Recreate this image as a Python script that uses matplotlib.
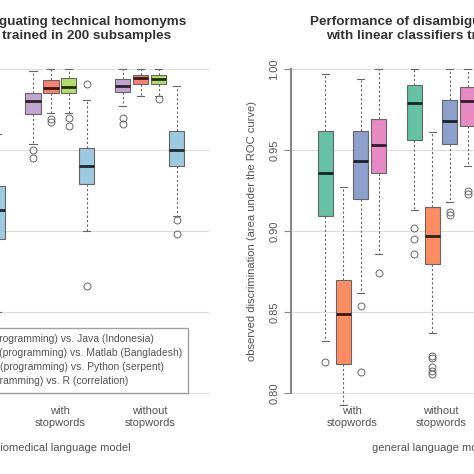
import matplotlib
matplotlib.use("Agg")
import matplotlib.pyplot as plt
from matplotlib.patches import Patch
import matplotlib.colors as mcolors

plt.rcParams['font.family'] = ['Liberation Sans', 'DejaVu Sans']

title = "Performance of disambiguating technical homonyms\nwith linear classifiers trained in 200 subsamples"

# left panel: biomedical language model
bio_groups = ["raw\ntext", "with\nstopwords", "without\nstopwords"]
bio_names = ["Java (programming) vs. Java (Indonesia)",
             "Matlab (programming) vs. Matlab (Bangladesh)",
             "Python (programming) vs. Python (serpent)",
             "R (programming) vs. R (correlation)"]
bio_colors = ["#c2a5cf", "#fb8072", "#b3de69", "#9ecae1"]
# (whislo, q1, median, q3, whishi, outliers) per group, per series
bio_stats = [
    [(0.93, 0.96, 0.97, 0.98, 0.995, []),
     (0.95, 0.975, 0.982, 0.99, 1.0, []),
     (0.95, 0.975, 0.982, 0.99, 1.0, []),
     (0.85, 0.895, 0.913, 0.928, 0.96, [])],
    [(0.954, 0.972, 0.980, 0.985, 0.999, [0.950, 0.945]),
     (0.973, 0.985, 0.988, 0.993, 1.0, [0.969, 0.967]),
     (0.973, 0.985, 0.989, 0.9945, 1.0, [0.970, 0.965]),
     (0.900, 0.929, 0.940, 0.951, 0.981, [0.991, 0.866])],
    [(0.977, 0.986, 0.9895, 0.994, 1.0, [0.970, 0.966]),
     (0.983, 0.991, 0.9945, 0.996, 1.0, []),
     (0.983, 0.991, 0.994, 0.996, 1.0, [0.9815]),
     (0.909, 0.940, 0.950, 0.962, 0.9895, [0.907, 0.898])],
]

# right panel: general language model
gen_groups = ["with\nstopwords", "without\nstopwords"]
gen_colors = ["#66c2a5", "#fc8d62", "#8da0cb", "#e78ac3"]
gen_stats = [
    [(0.832, 0.909, 0.936, 0.962, 0.997, [0.819]),
     (0.793, 0.818, 0.849, 0.870, 0.927, []),
     (0.862, 0.920, 0.943, 0.962, 0.994, [0.854, 0.813]),
     (0.886, 0.936, 0.953, 0.969, 1.0, [0.874])],
    [(0.913, 0.956, 0.979, 0.990, 1.0, [0.902, 0.895, 0.886]),
     (0.837, 0.880, 0.897, 0.915, 0.961, [0.823, 0.822, 0.816, 0.814, 0.812]),
     (0.918, 0.954, 0.968, 0.981, 1.0, [0.912, 0.910]),
     (0.940, 0.965, 0.980, 0.989, 1.0, [0.925, 0.923])],
]

offsets = [-0.3, -0.1, 0.1, 0.3]


def draw_boxes(ax, stats, colors):
    for g, group in enumerate(stats):
        for k, s in enumerate(group):
            d = dict(whislo=s[0], q1=s[1], med=s[2], q3=s[3], whishi=s[4], fliers=s[5])
            c = colors[k]
            dark = tuple(v * 0.2 for v in mcolors.to_rgb(c))
            ax.bxp([d], positions=[g + 1 + offsets[k]], widths=0.17, patch_artist=True,
                   boxprops=dict(facecolor=c, edgecolor="#666666", linewidth=0.8),
                   medianprops=dict(color=dark, linewidth=2),
                   whiskerprops=dict(color="#666666", linestyle=(0, (2, 2)), linewidth=0.8),
                   capprops=dict(color="#666666", linewidth=0.8), capwidths=0.08,
                   flierprops=dict(marker="o", markerfacecolor="none", markeredgecolor="#666666",
                                   markersize=5, markeredgewidth=0.7))


def style(ax, groups, xlabel):
    ax.set_ylim(0.792, 1.008)
    ax.set_yticks([0.80, 0.85, 0.90, 0.95, 1.00])
    ax.set_yticklabels(["0.80", "0.85", "0.90", "0.95", "1.00"], rotation=90, va="center",
                       color="#555555", fontsize=8)
    for t in [0.80, 0.85, 0.90, 0.95, 1.00]:
        ax.axhline(t, color="#dddddd", linewidth=0.8, zorder=0)
    ax.set_xticks(range(1, len(groups) + 1))
    ax.set_xticklabels(groups, color="#555555", fontsize=8)
    ax.tick_params(axis="x", length=0, pad=0)
    ax.tick_params(axis="y", color="#888888", length=5)
    for sp in ["top", "right", "bottom"]:
        ax.spines[sp].set_visible(False)
    ax.spines["left"].set_bounds(0.80, 1.00)
    ax.spines["left"].set_color("#888888")
    ax.spines["left"].set_linewidth(1.5)
    ax.set_xlabel(xlabel, color="#555555", fontsize=8, labelpad=11)
    ax.set_ylabel("observed discrimination (area under the ROC curve)", color="#555555",
                  fontsize=8, labelpad=9)


fig = plt.figure(figsize=(4.74, 4.74), dpi=100)
ax1 = fig.add_axes([-0.177, 0.143, 0.618, 0.739])
ax2 = fig.add_axes([0.614, 0.143, 0.597, 0.739])

draw_boxes(ax1, bio_stats, bio_colors)
style(ax1, bio_groups, "biomedical language model")
ax1.set_xlim(0.4, 3.66)
ax1.legend(handles=[Patch(facecolor=c, edgecolor="#666666") for c in bio_colors], labels=bio_names,
           loc="upper right", bbox_to_anchor=(0.408, 0.320), bbox_transform=fig.transFigure,
           fancybox=False, edgecolor="#888888", fontsize=7.5, labelcolor="#555555",
           handlelength=1, borderpad=0.6, labelspacing=0.4)

draw_boxes(ax2, gen_stats, gen_colors)
style(ax2, gen_groups, "general language model")
ax2.set_xlim(0.315, 3.495)

# panel titles (centred over each full panel, which extends past the crop)
for xc in [16 / 474, 481 / 474]:
    fig.text(xc, 1 - 29 / 474, title, ha="center", va="center", fontsize=9.7,
             fontweight="bold", color="#333333", linespacing=1.2)

fig.savefig("out.png", dpi=100)
